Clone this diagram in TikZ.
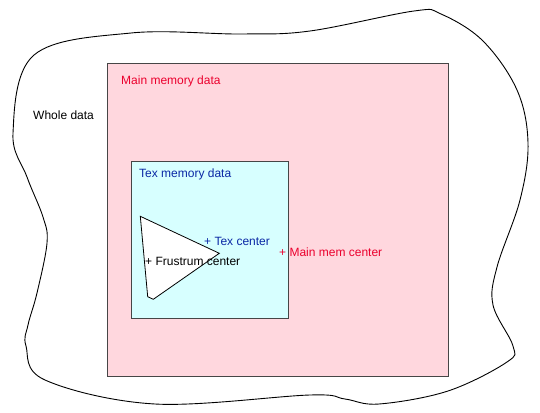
\documentclass[tikz,border=0pt]{standalone}
\usepackage{fontspec}
\setmainfont{Liberation Sans}
\definecolor{mainpink}{RGB}{255,215,222}
\definecolor{texcyan}{RGB}{215,255,255}
\definecolor{mainred}{RGB}{235,0,45}
\definecolor{texblue}{RGB}{10,40,165}
\definecolor{boxgray}{RGB}{70,70,70}
\tikzset{
  lbl/.style={anchor=west, inner sep=0pt, font=\fontsize{12}{14}\selectfont},
  area/.style={draw=boxgray, line width=0.8pt}
}
\begin{document}
\begin{tikzpicture}[x=1pt, y=-1pt]
	\useasboundingbox (0,0) rectangle (540,412);
	
	% whole data
	\draw[line width=0.9pt] plot[smooth cycle, tension=0.6] coordinates {
		(13,133) (34,55) (131,33) (241,34) (310,31) (414,11) (441,14)
		(483,41) (517,90) (528,143) (520,200) (497,267) (493,305)
		(513,346) (507,362) (448,391) (379,404) (345,399) (310,395)
		(155,404) (45,380) (26,346) (28,325) (37,293) (47,243)
		(43,217) (27,177)};
	
	% main memory and tex memory
	\draw[area, fill=mainpink] (107,63) rectangle (448,376);
	\draw[area, fill=texcyan] (131,161) rectangle (288,318);
	
	% frustrum
	\draw[line width=0.8pt, fill=white] (140.3,216.3) -- (219.3,253.3) -- (153.3,299.3) -- (147.7,296.7) -- cycle;
	
	\node[lbl] (whole) at (33,115) {Whole data};
	\node[lbl, text=mainred] (mainmem) at (121,81) {Main memory data};
	\node[lbl, text=texblue] (texmem) at (139,174) {Tex memory data};
	
	\node[lbl, text=texblue] (texc) at (204,241.5) {+ Tex center};
	\node[lbl, text=mainred] (mainc) at (279,252) {+ Main mem center};
	\node[lbl] (frustc) at (145,261.5) {+ Frustrum center};
\end{tikzpicture}
\end{document}
